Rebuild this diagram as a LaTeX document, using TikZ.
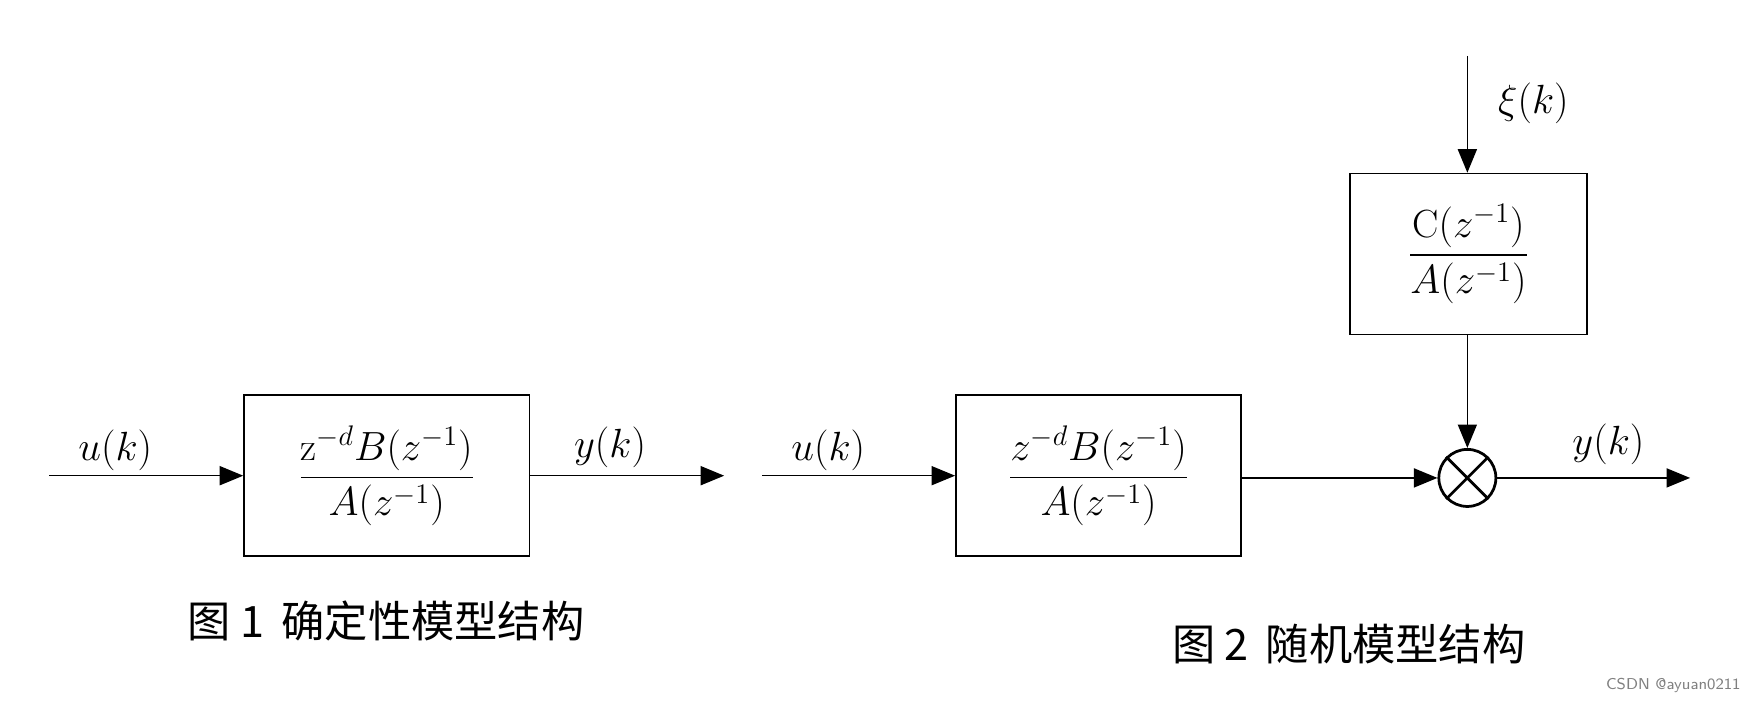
\documentclass[tikz,border=0pt]{standalone}
\usepackage{amsmath}
\usepackage{fontspec}
\newfontfamily\cjk{Noto Sans CJK SC}
\usetikzlibrary{arrows.meta, positioning}

\tikzset{
    blk/.style={draw, line width=0.8pt, minimum width=5.1cm, minimum height=2.88cm, inner sep=0pt},
    sig/.style={-{Triangle[length=0.42cm, width=0.34cm]}, line width=0.8pt},
    lbl/.style={font=\fontsize{20}{24}\selectfont}
}

\begin{document}
\begin{tikzpicture}[x=0.02cm, y=-0.02cm]
    \useasboundingbox (0,0) rectangle (1568,628);

    % figure 1
    \node[blk, lbl] (g1) at (345.5,425) {$\dfrac{\mathrm{z}^{-d}B(z^{-1})}{A(z^{-1})}$};
    \coordinate (in1) at (44,425);
    \coordinate (out1) at (647,425);
    \draw[sig] (in1) -- (g1.west);
    \draw[sig] (g1.east) -- (out1);
    \node[lbl] (u1) at (103,402) {$u(k)$};
    \node[lbl] (y1) at (545,400) {$y(k)$};
    \node[lbl, font=\fontsize{22}{26}\selectfont] (cap1) at (345,555) {\cjk 图 1\, 确定性模型结构};

    % figure 2
    \node[blk, lbl] (g2) at (981.5,425) {$\dfrac{z^{-d}B(z^{-1})}{A(z^{-1})}$};
    \node[blk, lbl, minimum width=4.24cm] (g3) at (1312,227) {$\dfrac{\mathrm{C}(z^{-1})}{A(z^{-1})}$};
    \node[draw, circle, line width=1.4pt, minimum size=1.02cm, inner sep=0pt] (sum) at (1311,427) {};
    \draw[line width=1.4pt] (sum.north west) -- (sum.south east) (sum.north east) -- (sum.south west);
    \coordinate (in2) at (681,425);
    \coordinate (out2) at (1510,427);
    \coordinate (xi) at (1311,50);
    \draw[sig] (in2) -- (g2.west);
    \draw[sig] (g2.east |- sum) -- (sum.west);
    \draw[sig] (sum.east) -- (out2);
    \draw[sig] (xi) -- (g3.north -| xi);
    \draw[sig] (g3.south -| sum) -- (sum.north);
    \node[lbl] (u2) at (740,402) {$u(k)$};
    \node[lbl] (y2) at (1437,397) {$y(k)$};
    \node[lbl] (xil) at (1370,92) {$\xi(k)$};
    \node[lbl, font=\fontsize{22}{26}\selectfont] (cap2) at (1205,575) {\cjk 图 2\, 随机模型结构};

    \node[font=\fontsize{8}{9}\selectfont\sffamily, text=gray] (wm) at (1495,612) {CSDN @ayuan0211};
\end{tikzpicture}
\end{document}
